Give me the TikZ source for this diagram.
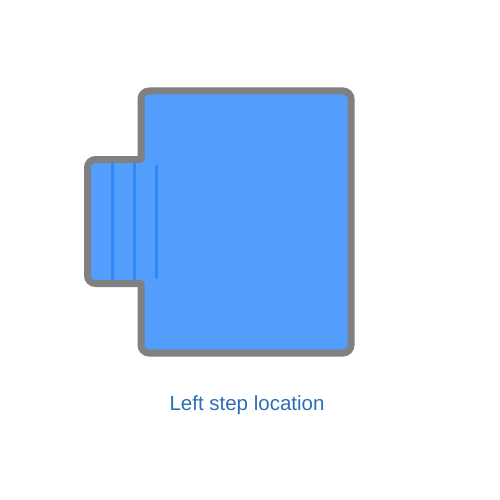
\documentclass[tikz,border=0pt]{standalone}
\usepackage{fontspec}
\setmainfont{Liberation Sans}
\definecolor{poolblue}{HTML}{539EFD}
\definecolor{rimgrey}{HTML}{808080}
\definecolor{stepline}{HTML}{2F88F6}
\definecolor{labelblue}{HTML}{2E6EB5}
\tikzset{
  pool/.style={fill=poolblue, draw=rimgrey, line width=7pt, rounded corners=8pt},
  stepedge/.style={draw=stepline, line width=3pt, line cap=round},
  caption/.style={text=labelblue, font=\fontsize{20.5}{24}\selectfont, inner sep=0pt}
}
\begin{document}
\begin{tikzpicture}[x=1pt,y=-1pt]
\useasboundingbox (0,0) rectangle (500,500);
\fill[white] (0,0) rectangle (500,500);
\draw[pool] (141,91) -- (351,91) -- (351,353) -- (141,353)
  {[rounded corners=1pt] -- (141,283.5)} -- (87.5,283.5) -- (87.5,159.5)
  {[rounded corners=1pt] -- (141,159.5)} -- cycle;
\fill[poolblue] (92,164) rectangle (150,279);
\coordinate (l1t) at (112.5,163.5);
\coordinate (l1b) at (112.5,279.5);
\coordinate (l2t) at (134.5,163.5);
\coordinate (l2b) at (134.5,279.5);
\coordinate (l3t) at (156,166);
\coordinate (l3b) at (156,277.5);
\draw[stepedge] (l1t) -- (l1b);
\draw[stepedge] (l2t) -- (l2b);
\draw[stepedge] (l3t) -- (l3b);
\node[caption, anchor=base] (cap) at (247,410) {Left step location};
\end{tikzpicture}
\end{document}
